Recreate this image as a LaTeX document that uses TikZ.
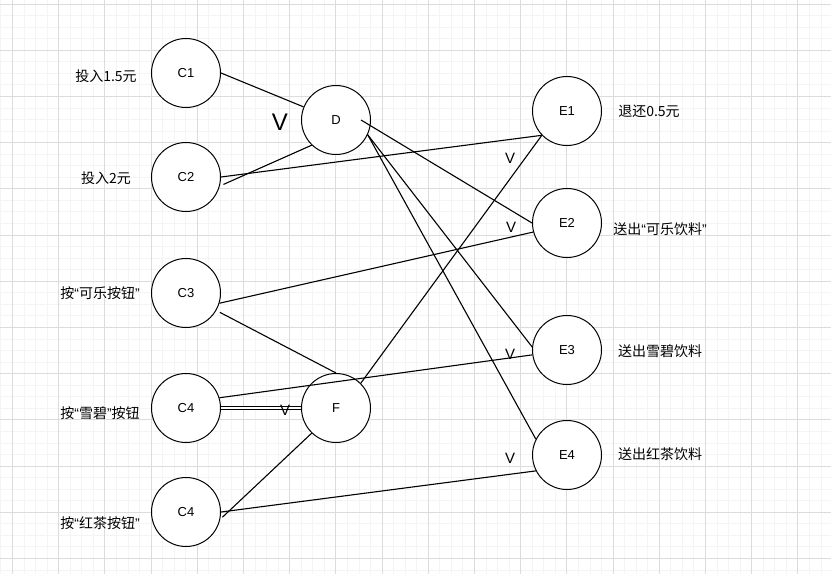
\documentclass[tikz,border=0pt]{standalone}
\usepackage{fontspec}
\usetikzlibrary{calc}
\setmainfont{Liberation Sans}
\newfontfamily\cjk{Noto Sans CJK SC}
\newcommand{\qo}{{\rmfamily “}}
\newcommand{\qc}{{\rmfamily ”}}
\definecolor{minorgrid}{HTML}{F4F4F4}
\definecolor{majorgrid}{HTML}{DCDCDC}

\begin{document}
\begin{tikzpicture}[x=1bp,y=-1bp,
    state/.style={circle,draw,line width=1bp,minimum size=69bp,inner sep=0pt,fill=white,font=\fontsize{13bp}{15bp}\selectfont},
    lbl/.style={font=\cjk\fontsize{14bp}{16bp}\selectfont,inner sep=0pt},
    vmark/.style={font=\fontsize{15bp}{17bp}\selectfont,inner sep=0pt},
    link/.style={line width=1.1bp}]
        \useasboundingbox[fill=white] (0,0) rectangle (831,574);
        % background grid
        \foreach \i in {-1,...,71} \draw[minorgrid,line width=0.8bp] ({12.4+11.55*\i},0) -- ++(0,574);
        \foreach \i in {0,...,49} \draw[minorgrid,line width=0.8bp] (0,{4+11.55*\i}) -- ++(831,0);
        \foreach \i in {0,...,17} \draw[majorgrid,line width=0.8bp] ({12.4+46.2*\i},0) -- ++(0,574);
        \foreach \i in {0,...,12} \draw[majorgrid,line width=0.8bp] (0,{4+46.2*\i}) -- ++(831,0);

        % causes
        \node[state] (C1) at (186,73) {C1};
        \node[state] (C2) at (186,177) {C2};
        \node[state] (C3) at (186,293) {C3};
        \node[state] (C4) at (186,408) {C4};
        \node[state] (C5) at (186,512) {C4};
        % middle
        \node[state] (D) at (336,120) {D};
        \node[state] (F) at (336,408) {F};
        % effects
        \node[state] (E1) at (567,111) {E1};
        \node[state] (E2) at (567,223) {E2};
        \node[state] (E3) at (567,350) {E3};
        \node[state] (E4) at (567,455) {E4};

        \node[lbl] (l1) at (106,76) {投入1.5元};
        \node[lbl] (l2) at (106,178) {投入2元};
        \node[lbl] (l3) at (100,293) {按\qo 可乐按钮\qc};
        \node[lbl] (l4) at (100,413) {按\qo 雪碧\qc 按钮};
        \node[lbl] (l5) at (100,523) {按\qo 红茶按钮\qc};
        \node[lbl] (r1) at (649,111) {退还0.5元};
        \node[lbl] (r2) at (660,229) {送出\qo 可乐饮料\qc};
        \node[lbl] (r3) at (660,351) {送出雪碧饮料};
        \node[lbl] (r4) at (660,454) {送出红茶饮料};

        \draw[link] (C1.east) -- (D.158);
        \draw[link,shorten <=4bp] (C2.-15) -- (D.226);
        \draw[link] (C2.east) -- (E1.224);
        \draw[link] ($(D.east)+(-10,0)$) -- (E2.west);
        \draw[link] (D.-25) -- (E3.175);
        \draw[link] (D.-25) -- (E4.153);
        \draw[link] (C3.-17) -- (E2.195);
        \draw[link,shorten <=4bp] (C3.-30) -- (F.north);
        \draw[link] (C4.17) -- (E3.188);
        \draw[line width=0.9bp,double,double distance=1.4bp] (C4.east) -- (F.west);
        \draw[link] (F.45) -- (E1.224);
        \draw[link,shorten <=3bp] (C5.-12) -- (F.226);
        \draw[link] (C5.east) -- (E4.207);

        \node[font=\fontsize{24bp}{26bp}\selectfont,inner sep=0pt] (v0) at (280,122) {V};
        \node[vmark] (v1) at (510,158) {V};
        \node[vmark] (v2) at (511,227) {V};
        \node[vmark] (v3) at (510,354) {V};
        \node[vmark] (v4) at (510,458) {V};
        \node[vmark] (v5) at (285,410) {V};
    \end{tikzpicture}
\end{document}
